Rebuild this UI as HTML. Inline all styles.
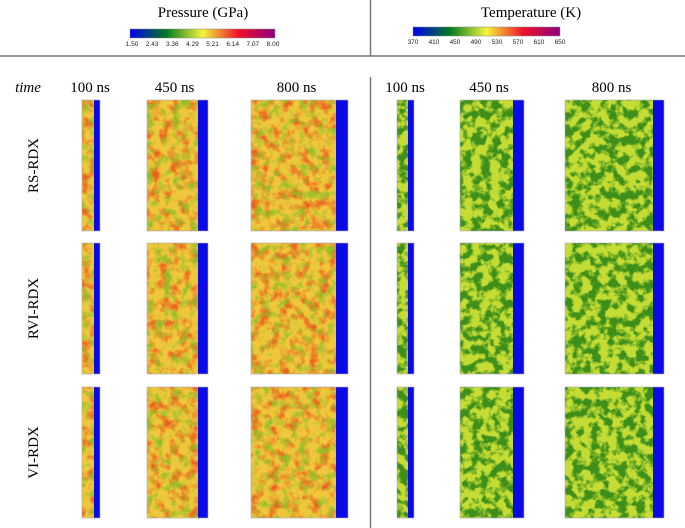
<!DOCTYPE html>
<html><head><meta charset="utf-8"><style>
body{margin:0;background:#fff;width:685px;height:528px;overflow:hidden;font-family:"Liberation Serif",serif}
svg{display:block}
</style></head><body>
<svg id="fig" width="685" height="528" viewBox="0 0 685 528" xmlns="http://www.w3.org/2000/svg">
<defs>
<filter id="pn" x="0" y="0" width="1" height="1" color-interpolation-filters="sRGB">
<feTurbulence type="fractalNoise" baseFrequency="0.1" numOctaves="3" seed="3" result="n"/>
<feColorMatrix in="n" type="matrix" values="0 0 0 0 0.93  0 0 0 0 0.38  0 0 0 0 0.12  3 0 0 0 -1.35" result="red"/>
<feTurbulence type="fractalNoise" baseFrequency="0.11" numOctaves="3" seed="9" result="n2"/>
<feColorMatrix in="n2" type="matrix" values="0 0 0 0 0.55  0 0 0 0 0.75  0 0 0 0 0.15  3 0 0 0 -1.45" result="grn"/>
<feFlood flood-color="#eec83a" result="base"/>
<feMerge><feMergeNode in="base"/><feMergeNode in="red"/><feMergeNode in="grn"/></feMerge>
</filter>
<filter id="tn" x="0" y="0" width="1" height="1" color-interpolation-filters="sRGB">
<feTurbulence type="fractalNoise" baseFrequency="0.11" numOctaves="3" seed="5" result="n"/>
<feColorMatrix in="n" type="matrix" values="0 0 0 0 0.24  0 0 0 0 0.56  0 0 0 0 0.1  5 0 0 0 -2.1" result="dk"/>
<feFlood flood-color="#c4dc34" result="base"/>
<feMerge><feMergeNode in="base"/><feMergeNode in="dk"/></feMerge>
</filter>
<linearGradient id="pg" x1="0" x2="1"><stop offset="0" stop-color="#0000ee"/><stop offset="0.25" stop-color="#007a20"/><stop offset="0.5" stop-color="#f4f43c"/><stop offset="0.75" stop-color="#f0102a"/><stop offset="1" stop-color="#8c0080"/></linearGradient>
</defs>
<g stroke="#777" stroke-width="1.5">
<line x1="0" y1="56" x2="685" y2="56"/><line x1="370.5" y1="0" x2="370.5" y2="56"/><line x1="370.5" y1="77" x2="370.5" y2="528"/>
</g>
<text x="203" y="17" font-size="15" text-anchor="middle">Pressure (GPa)</text>
<text x="531" y="17" font-size="15" text-anchor="middle">Temperature (K)</text>
<rect x="130" y="29" width="145" height="9" fill="url(#pg)" stroke="#888" stroke-width="0.5"/>
<rect x="413" y="27" width="147" height="9" fill="url(#pg)" stroke="#888" stroke-width="0.5"/>
<g id="ticks" font-family="Liberation Sans, sans-serif" font-size="6.5" fill="#222" text-anchor="middle"></g>
<text x="28" y="92" font-size="15" font-style="italic" text-anchor="middle">time</text>
<g id="heads" font-size="15" text-anchor="middle"></g>
<g id="rows" font-size="15" text-anchor="middle"></g>
<g id="panels"></g>
</svg>
<script>
const pressureTicks=["1.50","2.43","3.36","4.29","5.21","6.14","7.07","8.00"];
const tempTicks=["370","410","450","490","530","570","610","650"];
const times=["100 ns","450 ns","800 ns"];
const materials=["RS-RDX","RVI-RDX","VI-RDX"];
const NS="http://www.w3.org/2000/svg";
function mk(tag,attrs,parent){const e=document.createElementNS(NS,tag);for(const k in attrs)e.setAttribute(k,attrs[k]);parent.appendChild(e);return e;}
const tk=document.getElementById('ticks');
pressureTicks.forEach((t,i)=>{const e=mk('text',{x:132+i*(141/(pressureTicks.length-1)),y:46},tk);e.textContent=t;

});
tempTicks.forEach((t,i)=>{const e=mk('text',{x:413+i*(147/(tempTicks.length-1)),y:44},tk);e.textContent=t;

});
const pCols=[{x:82,w:18,b:6},{x:147,w:61,b:10},{x:251,w:97,b:12}];
const tCols=[{x:397,w:17,b:6},{x:460,w:64,b:11},{x:565,w:99,b:11}];
const rowY=[100,243,387],rowH=131;
const hd=document.getElementById('heads');
times.forEach((t,i)=>{[pCols,tCols].forEach(cs=>{const c=cs[i];const e=mk('text',{x:i==0?c.x+8:c.x+c.w/2-3,y:92},hd);e.textContent=t;

});});
const rw=document.getElementById('rows');
materials.forEach((m,r)=>{const cy=rowY[r]+rowH/2;const e=mk('text',{x:0,y:0,transform:`translate(38,${cy}) rotate(-90)`},rw);e.textContent=m;

});
const pn=document.getElementById('panels');
materials.forEach((m,r)=>{times.forEach((t,i)=>{
[[pCols[i],'pn','pressure'],[tCols[i],'tn','temperature']].forEach(([c,f,kind])=>{
const g=mk('g',{},pn);


mk('rect',{x:c.x,y:rowY[r],width:c.w-c.b,height:rowH,filter:`url(#${f})`},g);
mk('rect',{x:c.x+c.w-c.b,y:rowY[r],width:c.b,height:rowH,fill:'#0a0ae6'},g);
mk('rect',{x:c.x,y:rowY[r],width:c.w,height:rowH,fill:'none',stroke:'#aab','stroke-width':0.6},g);
});});});
</script>
</body></html>
